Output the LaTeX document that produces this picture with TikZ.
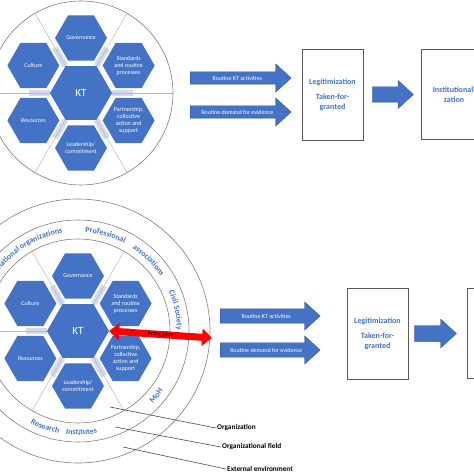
\documentclass[tikz,border=0pt]{standalone}
\usepackage{fontspec}
\setmainfont{Carlito}
\usetikzlibrary{positioning,shapes.geometric,shapes.arrows,arrows.meta,decorations.text}
\definecolor{hexblue}{HTML}{4472C4}
\definecolor{hexedge}{HTML}{2F528F}
\definecolor{gapband}{HTML}{D3D9EE}
\definecolor{ringgray}{HTML}{7F7F7F}

\begin{document}
\begin{tikzpicture}[x=1pt, y=1pt,
            hexbig/.style={regular polygon, regular polygon sides=6, minimum size=62pt, inner sep=0pt, fill=hexblue, text=white, font=\fontsize{11}{13}\selectfont},
            hexsmall/.style={regular polygon, regular polygon sides=6, minimum size=52pt, inner sep=0pt, fill=hexblue, text=white, align=center, font=\fontsize{6}{7}\selectfont},
            ringline/.style={draw=ringgray, line width=0.6pt},
            spoke/.style={draw=gray!55, line width=0.5pt},
            gapshade/.style={draw=gapband, line width=6pt},
            blockarrow/.style={single arrow, fill=hexblue, draw=hexedge, line width=0.3pt, text=white, font=\fontsize{6}{7}\selectfont, single arrow tip angle=85, text height=4.5pt, text depth=0pt, inner xsep=1pt},
            stagebox/.style={rectangle, draw=gray!70!black, line width=0.6pt, text=hexblue, align=center, font=\bfseries\fontsize{8}{10}\selectfont},
            ringtext/.style={decorate, decoration={text along path, text align=center, text color=hexblue, text={|\bfseries\fontsize{8}{9}\selectfont|#1}}},
            principle/.style={draw=red, line width=7pt, {Triangle[length=10pt,width=17pt]}-{Triangle[length=10pt,width=17pt]}},
            levellabel/.style={font=\bfseries\fontsize{7.3}{8}\selectfont, inner sep=1pt},
            leader/.style={draw=gray!60!black, line width=0.6pt},
        ]
        \useasboundingbox (0,0) rectangle (474,474);

        %Upper model
        \coordinate (tc) at (81,381);
        \foreach \a in {0,60,...,300} {
            \draw[gapshade] ([shift={(\a:31)}]tc) -- ([shift={(\a:52)}]tc);
            \draw[spoke] (tc) -- ([shift={(\a:92)}]tc);
        }
        \draw[ringline] (tc) circle[radius=92];

        \node[hexbig]      (tkt)   at (tc)                         {KT};
        \node[hexsmall]    (tgov)  at ([shift={(90:55)}]tkt)       {Governance};
        \node[hexsmall]    (tstd)  at ([shift={(30:55)}]tkt)       {Standards\\and routine\\processes};
        \node[hexsmall]    (tpart) at ([shift={(-30:55)}]tkt)      {Partnership,\\collective\\action and\\support};
        \node[hexsmall]    (tlead) at ([shift={(-90:55)}]tkt)      {Leadership/\\commitment};
        \node[hexsmall]    (tres)  at ([shift={(-150:55)}]tkt)     {Resources};
        \node[hexsmall]    (tcul)  at ([shift={(150:55)}]tkt)      {Culture};

        \node[blockarrow, minimum height=101pt, anchor=tail, inner ysep=3.75pt, single arrow head extend=8pt] (tact) at (190,396) {Routine KT activities};
        \node[blockarrow, minimum height=101pt, anchor=tail, inner ysep=3.75pt, single arrow head extend=8pt] (tdem) at (190,362) {Routine demand for evidence};
        \node[stagebox, minimum width=61pt, minimum height=91pt] (tlegit) at (332.5,379.5) {Legitimization\\[5pt]Taken-for-\\granted};
        \node[blockarrow, minimum height=41pt, inner ysep=5.25pt, single arrow head extend=6.5pt] (tmove) [right=9pt of tlegit] {};
        \node[stagebox, minimum width=66pt, minimum height=90pt] (tinst) [right=7pt of tmove] {Institutionali\\zation};

        %Lower model
        \coordinate (bc) at (78,143);
        \foreach \a in {0,60,...,300} {
            \draw[gapshade] ([shift={(\a:31)}]bc) -- ([shift={(\a:52)}]bc);
            \draw[spoke] (bc) -- ([shift={(\a:92)}]bc);
        }
        \draw[ringline] (bc) circle[radius=92];
        \draw[ringline] (bc) circle[radius=111];
        \draw[ringline] (bc) circle[radius=132];

        \node[hexbig]      (bkt)   at (bc)                         {KT};
        \node[hexsmall]    (bgov)  at ([shift={(90:55)}]bkt)       {Governance};
        \node[hexsmall]    (bstd)  at ([shift={(30:55)}]bkt)       {Standards\\and routine\\processes};
        \node[hexsmall]    (bpart) at ([shift={(-30:55)}]bkt)      {Partnership,\\collective\\action and\\support};
        \node[hexsmall]    (blead) at ([shift={(-90:55)}]bkt)      {Leadership/\\commitment};
        \node[hexsmall]    (bres)  at ([shift={(-150:55)}]bkt)     {Resources};
        \node[hexsmall]    (bcul)  at ([shift={(150:55)}]bkt)      {Culture};

        %Ring labels
        \path[ringtext={International organizations}] ([shift={(158:99)}]bc) arc[start angle=158, end angle=92, radius=99];
        \path[ringtext={Professional}] ([shift={(88:99)}]bc) arc[start angle=88, end angle=60, radius=99];
        \path[ringtext={associations}] ([shift={(60:99)}]bc) arc[start angle=60, end angle=30, radius=99];
        \path[ringtext={Civil Society}] ([shift={(25:99)}]bc) arc[start angle=25, end angle=-1, radius=99];
        \path[ringtext={MoH}] ([shift={(-50:104)}]bc) arc[start angle=-50, end angle=-29, radius=104];
        \path[ringtext={Research}] ([shift={(-120:104)}]bc) arc[start angle=-120, end angle=-98, radius=104];
        \path[ringtext={Institutes}] ([shift={(-99:104)}]bc) arc[start angle=-99, end angle=-77, radius=104];

        \coordinate (pend) at (212,136);
        \draw[principle] (bkt.east) -- (pend) node[midway, sloped, text=black, font=\fontsize{6.5}{7}\selectfont] {Principles};

        \node[blockarrow, minimum height=100pt, anchor=tail, inner ysep=4.75pt, single arrow head extend=7pt] (bact) at (220,158) {Routine KT activities};
        \node[blockarrow, minimum height=100pt, anchor=tail, inner ysep=4.75pt, single arrow head extend=7pt] (bdem) at (220,124) {Routine demand for evidence};
        \node[stagebox, minimum width=61pt, minimum height=91pt] (blegit) at (377.5,140.5) {Legitimization\\[5pt]Taken-for-\\granted};
        \node[blockarrow, minimum height=42pt, inner ysep=5.5pt, single arrow head extend=6.5pt] (bmove) [right=6pt of blegit] {};
        \node[stagebox, minimum width=66pt, minimum height=90pt] (binst) [right=10pt of bmove] {};

        %Level labels
        \coordinate (orgpt) at (110,67);
        \coordinate (fieldpt) at (115,47);
        \coordinate (envpt) at (123,27);
        \node[levellabel, anchor=west] (orglab)   at (216,46) {Organization};
        \node[levellabel, anchor=west] (fieldlab) at (221,27) {Organizational field};
        \node[levellabel, anchor=west] (envlab)   at (226,5)  {External environment};
        \draw[leader] (orgpt) -- (orglab.west);
        \draw[leader] (fieldpt) -- (fieldlab.west);
        \draw[leader] (envpt) -- (envlab.west);
    \end{tikzpicture}
\end{document}
